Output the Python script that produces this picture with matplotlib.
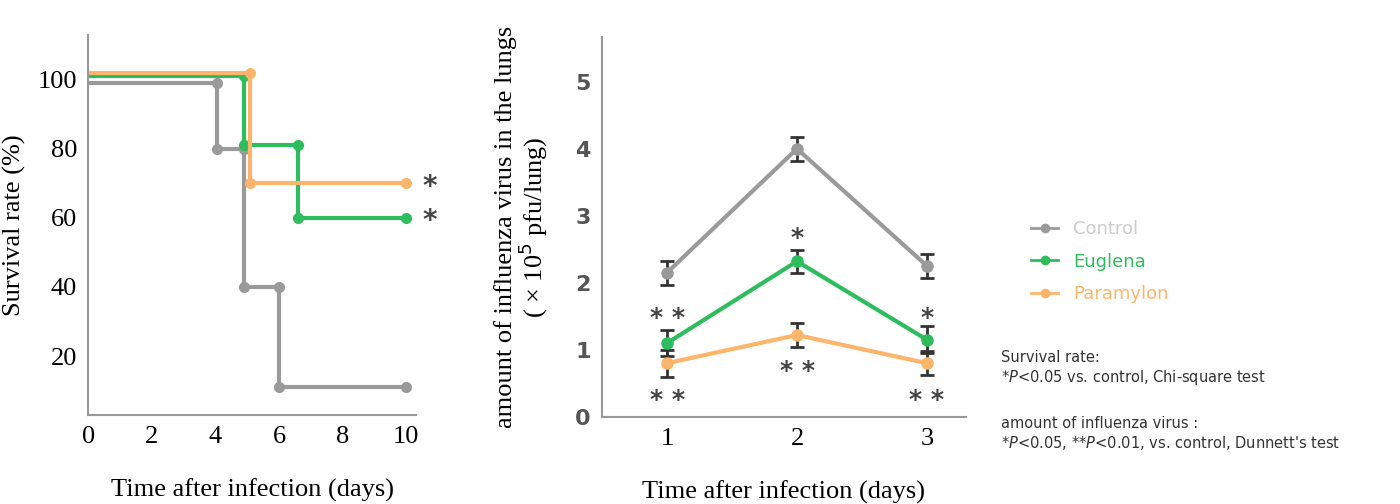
import numpy as np
import matplotlib.pyplot as plt

# survival data (step curves)
days_ctrl = [0, 4.05, 4.05, 4.9, 4.9, 6.0, 6.0, 10]
surv_ctrl = [99, 99, 80, 80, 40, 40, 11, 11]
days_eug = [0, 4.9, 4.9, 6.6, 6.6, 10]
surv_eug = [101, 101, 81, 81, 60, 60]
days_par = [0, 5.1, 5.1, 10]
surv_par = [102, 102, 70, 70]

# virus titre
tp = [1, 2, 3]
virus_ctrl = [2.15, 4.0, 2.25]
err_ctrl = [0.18, 0.18, 0.18]
virus_eug = [1.1, 2.32, 1.15]
err_eug = [0.2, 0.17, 0.2]
virus_par = [0.8, 1.22, 0.8]
err_par = [0.2, 0.18, 0.18]

c_gray = '#9a9a9a'
c_green = '#2dbd5c'
c_orange = '#fdb56b'
serif = 'Liberation Serif'

fig = plt.figure(figsize=(14, 5.04), dpi=100)

ax1 = fig.add_axes([0.063, 0.177, 0.234, 0.754])
for d, s, c in [(days_ctrl, surv_ctrl, c_gray), (days_eug, surv_eug, c_green), (days_par, surv_par, c_orange)]:
    ax1.plot(d, s, color=c, lw=3)
    ax1.plot(d[1:], s[1:], 'o', color=c, ms=7)
ax1.set_xlim(0, 10.3)
ax1.set_ylim(3, 113)
ax1.set_xticks([0, 2, 4, 6, 8, 10])
ax1.set_yticks([20, 40, 60, 80, 100])
ax1.text(10.5, 69, '*', fontsize=20, color='#444444', va='center', weight='bold')
ax1.text(10.5, 59, '*', fontsize=20, color='#444444', va='center', weight='bold')
ax1.set_ylabel('Survival rate (%)', fontsize=19, family=serif, labelpad=8)
ax1.set_xlabel('Time after infection (days)', fontsize=19, family=serif, labelpad=22)

ax2 = fig.add_axes([0.43, 0.173, 0.26, 0.754])
for v, e, c, lab in [(virus_ctrl, err_ctrl, c_gray, 'Control'), (virus_eug, err_eug, c_green, 'Euglena'), (virus_par, err_par, c_orange, 'Paramylon')]:
    ax2.errorbar(tp, v, yerr=e, color=c, lw=3, marker='o', ms=8, ecolor='#333333', elinewidth=2, capsize=5, capthick=2, label=lab)
ax2.set_xlim(0.5, 3.3)
ax2.set_ylim(0, 5.67)
ax2.set_xticks(tp)
ax2.set_yticks([0, 1, 2, 3, 4, 5])
star_pos = [(1, 1.47, '* *'), (1, 0.25, '* *'), (2, 2.67, '*'), (2, 0.68, '* *'), (3, 1.47, '*'), (3, 0.25, '* *')]
for x, y, t in star_pos:
    ax2.text(x, y, t, ha='center', va='center', fontsize=18, color='#444444', weight='bold')
ax2.set_ylabel('amount of influenza virus in the lungs\n( × 10$^5$ pfu/lung)', fontsize=19, family=serif,
               linespacing=1.0, labelpad=18)
ax2.set_xlabel('Time after infection (days)', fontsize=19, family=serif, labelpad=22)

for ax in (ax1, ax2):
    for sp in ('top', 'right'):
        ax.spines[sp].set_visible(False)
    for sp in ('left', 'bottom'):
        ax.spines[sp].set_color('#999999')
        ax.spines[sp].set_linewidth(1.5)
    ax.tick_params(length=0, labelsize=19, pad=8)
for lbl in ax1.get_xticklabels() + ax1.get_yticklabels() + ax2.get_xticklabels():
    lbl.set_family(serif)
for lbl in ax2.get_yticklabels():
    lbl.set_family('DejaVu Sans')
    lbl.set_fontweight('bold')
    lbl.set_fontsize(16)
    lbl.set_color('#555555')

labels = ['Control', 'Euglena', 'Paramylon']
handles = [plt.Line2D([], [], color=c, marker='o', lw=2, ms=6) for c in (c_gray, c_green, c_orange)]
leg = fig.legend(handles, labels, loc='upper left', bbox_to_anchor=(0.725, 0.595), frameon=False,
                 fontsize=13, handlelength=1.5, labelspacing=0.8)
for t, c in zip(leg.get_texts(), ('#cccccc', c_green, c_orange)):
    t.set_color(c)

fig.text(0.715, 0.305, 'Survival rate:\n*$P$<0.05 vs. control, Chi-square test', fontsize=10.5, va='top', color='#333333')
fig.text(0.715, 0.175, "amount of influenza virus :\n*$P$<0.05, **$P$<0.01, vs. control, Dunnett's test", fontsize=10.5, va='top', color='#333333')

fig.savefig('out.png', dpi=100)
